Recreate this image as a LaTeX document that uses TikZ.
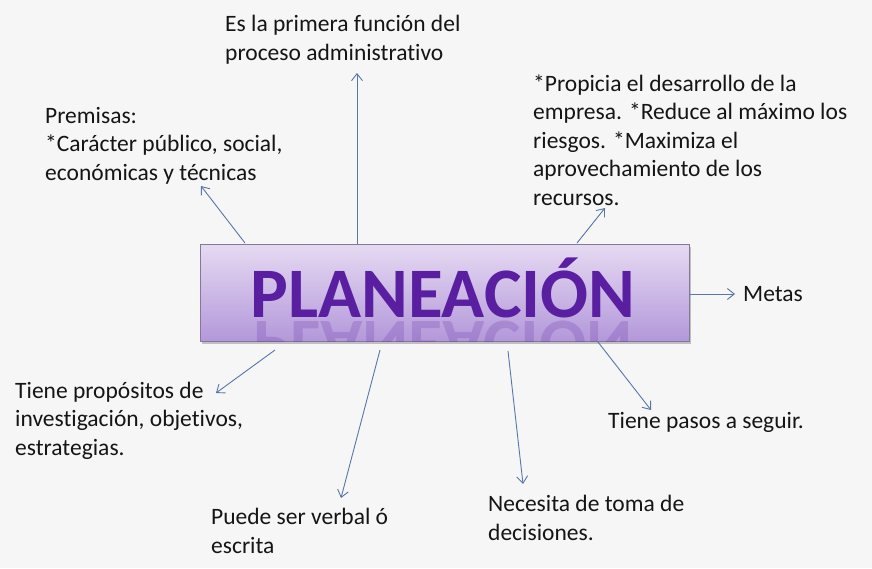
\documentclass[tikz,border=0pt]{standalone}
\usepackage{fontspec}
\setmainfont{Carlito}[Ligatures={NoCommon}]
\usetikzlibrary{arrows.meta,shadows}
\definecolor{bgc}{HTML}{F6F6F6}
\definecolor{arrc}{HTML}{5677A8}
\definecolor{boxtop}{HTML}{E6DAF2}
\definecolor{boxbot}{HTML}{B398DA}
\definecolor{boxline}{HTML}{857799}
\definecolor{titc}{HTML}{5A1EA0}
\definecolor{txtc}{HTML}{151515}
\tikzset{
  lbl/.style={anchor=base west, align=left, inner sep=0pt, text=txtc,
    font=\fontsize{23.5}{28.5}\selectfont},
  arr/.style={draw=arrc, line width=0.9pt, -{Straight Barb[length=7pt,width=11pt,line width=0.9pt]}},
}
\begin{document}
\begin{tikzpicture}[x=1pt,y=-1pt]
\fill[bgc] (0,0) rectangle (872,568);
\useasboundingbox (0,0) rectangle (872,568);

% central box
\node (box) [draw=boxline, line width=1pt, top color=boxtop, bottom color=boxbot,
  minimum width=489pt, minimum height=97pt, inner sep=0pt,
  drop shadow={shadow xshift=2pt, shadow yshift=-2.5pt, opacity=0.45}] at (444.5,292.5) {};
\begin{scope}
  \clip (box.south west) rectangle (box.north east);
  \node (refl) [anchor=base, inner sep=0pt, text=titc, opacity=0.2,
    font=\fontsize{70}{80}\selectfont\bfseries] at (443,321) {\scalebox{1}[-1]{PLANEACIÓN}};
\end{scope}
\node (title) [anchor=base, inner sep=0pt, text=titc,
  font=\fontsize{71}{80}\selectfont\bfseries] at (443,317) {PLANEACIÓN};

% texts (anchor = baseline of the last line)
\node (t1) [lbl] at (225,60) {Es la primera función del\\proceso administrativo};
\node (t2) [lbl] at (45,180) {Premisas:\\*Carácter público, social,\\económicas y técnicas};
\node (t3) [lbl] at (533,205) {*Propicia el desarrollo de la\\empresa. *Reduce al máximo los\\riesgos. *Maximiza el\\aprovechamiento de los\\recursos.};
\node (t4) [lbl] at (743,301) {Metas};
\node (t5) [lbl] at (15,455) {Tiene propósitos de\\investigación, objetivos,\\estrategias.};
\node (t6) [lbl] at (211,553) {Puede ser verbal ó\\escrita};
\node (t7) [lbl] at (488,540) {Necesita de toma de\\decisiones.};
\node (t8) [lbl] at (608,428) {Tiene pasos a seguir.};

% connector ends
\coordinate (s1) at (245,243); \coordinate (e1) at (201,186);
\coordinate (s2) at (357,244); \coordinate (e2) at (357,73);
\coordinate (s3) at (577,243); \coordinate (e3) at (605,208);
\coordinate (s4) at (690,294); \coordinate (e4) at (735,294);
\coordinate (s5) at (275,350); \coordinate (e5) at (216,393);
\coordinate (s6) at (380,350); \coordinate (e6) at (341,498);
\coordinate (s7) at (508,351); \coordinate (e7) at (523,484);
\coordinate (s8) at (598,342); \coordinate (e8) at (651,410);

\draw[arr] (s1) -- (e1);
\draw[arr] (s2) -- (e2);
\draw[arr] (s3) -- (e3);
\draw[arr] (s4) -- (e4);
\draw[arr] (s5) -- (e5);
\draw[arr] (s6) -- (e6);
\draw[arr] (s7) -- (e7);
\draw[arr] (s8) -- (e8);
\end{tikzpicture}
\end{document}
